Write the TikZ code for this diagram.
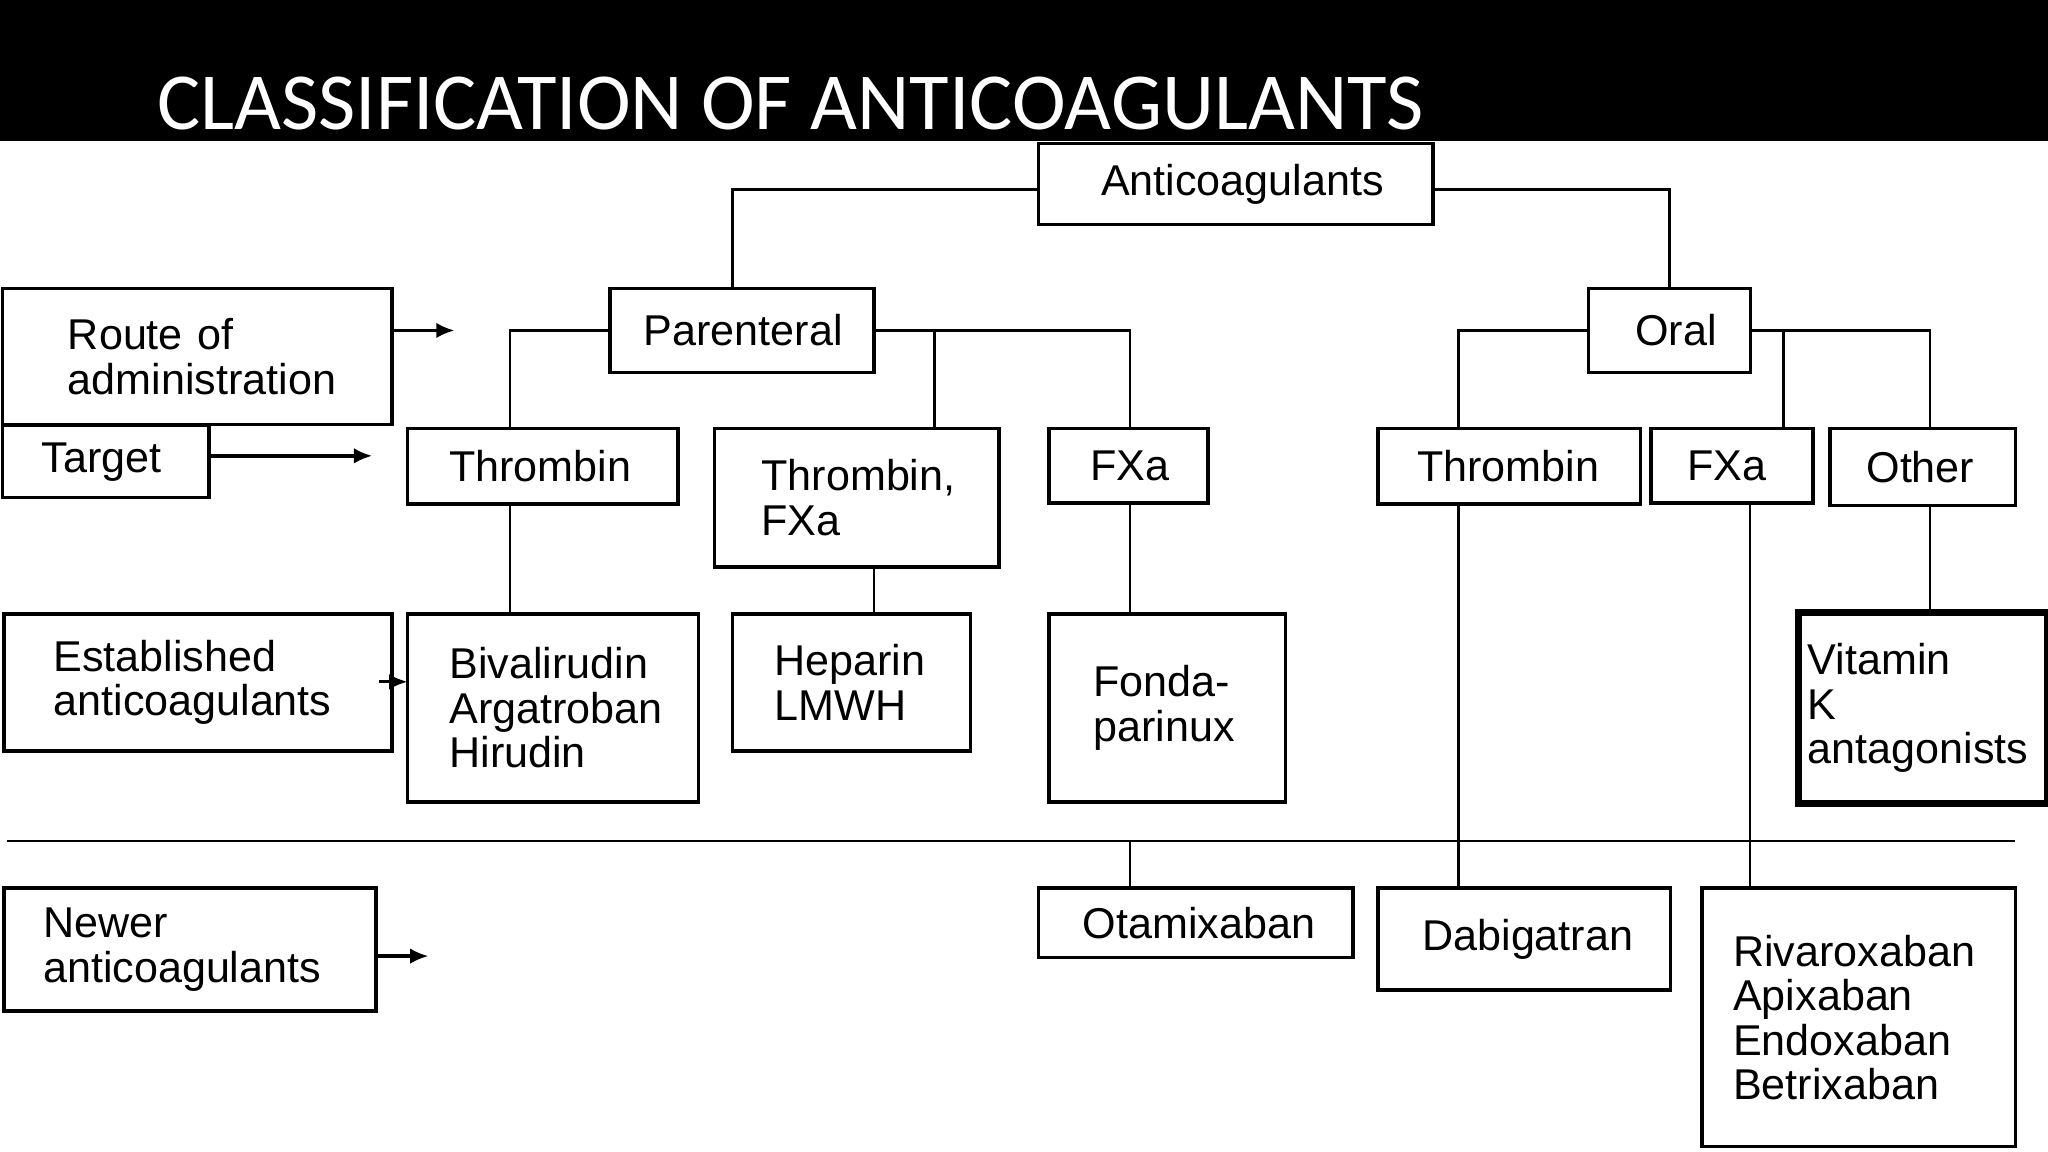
\documentclass[tikz,border=0pt]{standalone}
\usepackage{fontspec}
\setmainfont{Liberation Sans}
\newfontfamily\titlefont{Carlito}
\usetikzlibrary{calc,arrows.meta}
\tikzset{
  box/.style={draw, line width=1.3pt, inner xsep=0pt, inner ysep=0pt, align=left,
    font=\fontsize{16.5}{17}\selectfont},
  con/.style={line width=1pt},
  arr/.style={line width=1.3pt, -{Latex[length=7pt,width=6pt]}}
}
\newcommand\bx[7][15]{%
  \node[box, minimum width={(#5-#3)*0.5pt}, minimum height={(#6-#4)*0.5pt},
    text width={(#5-#3)*0.5pt-2*#1pt}] (#2) at ({(#3+#5)/2},{(#4+#6)/2}) {#7};}
\newcommand\tp[3]{\coordinate (#1) at ($(#2 west)!#3!(#2 east)$);}
\begin{document}
\begin{tikzpicture}[x=0.5pt,y=-0.5pt]
\useasboundingbox (0,0) rectangle (1568,882);
\fill[white] (0,0) rectangle (1568,882);
\fill[black] (0,0) rectangle (1568,108);
\node[anchor=base west, text=white, inner sep=0pt, font=\titlefont\fontsize{31}{31}\selectfont] (title) at (120,99) {CLASSIFICATION OF ANTICOAGULANTS};
% boxes
\bx[24]{ant}{795}{110}{1097}{172}{Anticoagulants}
\bx[13]{par}{467}{221}{669}{285}{Parenteral}
\bx[18]{oral}{1216}{221}{1340}{285}{Oral}
\bx[16]{thr1}{312}{328}{519}{386}{Thrombin}
\bx[18]{thf}{547}{328}{765}{434}{Thrombin,\\FXa}
\bx[16]{fxa1}{803}{328}{925}{385}{FXa}
\bx[15]{thr2}{1055}{328}{1256}{386}{Thrombin}
\bx[14]{fxa2}{1264}{328}{1388}{385}{FXa}
\bx[14]{oth}{1401}{328}{1543}{387}{Other}
\bx[16]{biv}{312}{470}{535}{614}{Bivalirudin\\Argatroban\\Hirudin}
\bx[16]{hep}{561}{470}{743}{575}{Heparin\\LMWH}
\bx[17]{fon}{803}{470}{984}{614}{Fonda-\\parinux}
\bx[3]{vit}{1378}{470}{1566}{614}{Vitamin\\K\\antagonists}
\bx[17]{ota}{795}{680}{1036}{733}{Otamixaban}
\bx[17]{dab}{1055}{680}{1279}{758}{Dabigatran}
\bx[12]{riv}{1303}{680}{1543}{878}{Rivaroxaban\\Apixaban\\Endoxaban\\Betrixaban}
\bx[25]{route}{2}{221}{300}{325}{Route of\\administration}
\bx[15]{targ}{2}{326}{160}{381}{Target}
\bx[19]{est}{3}{470}{300}{575}{Established\\anticoagulants}
\bx[15]{new}{3}{680}{288}{774}{Newer\\anticoagulants}
% thicker vitamin box
\draw[line width=2.2pt] (vit.north west) rectangle (vit.south east);
% top points
\tp{t1}{thr1.north}{0.38}
\tp{t2}{thf.north}{0.77}
\tp{t3}{fxa1.north}{0.51}
\tp{t4}{thr2.north}{0.31}
\tp{t5}{fxa2.north}{0.81}
\tp{t6}{oth.north}{0.54}
\tp{b1}{thr1.south}{0.38}
\tp{b2}{thf.south}{0.56}
\tp{b3}{fxa1.south}{0.51}
\tp{b4}{thr2.south}{0.31}
\tp{b5}{fxa2.south}{0.61}
\tp{b6}{oth.south}{0.54}
\tp{ap}{par.north}{0.465}
\tp{ao}{oral.north}{0.5}
% connectors
\draw[con] ($(ant.west)+(0,4)$) -| (ap);
\draw[con] ($(ant.east)+(0,4)$) -| (ao);
\draw[con] (par.west) -| (t1);
\draw[con] (par.east) -| (t3);
\draw[con] (t2) -- (t2 |- par.east);
\draw[con] (oral.west) -| (t4);
\draw[con] (oral.east) -| (t6);
\draw[con] (t5) -- (t5 |- oral.east);
\draw[con] (b1) -- (b1 |- biv.north);
\draw[con] (b2) -- (b2 |- hep.north);
\draw[con] (b3) -- (b3 |- fon.north);
\draw[con] (b4) -- (b4 |- dab.north);
\draw[con] (b5) -- (b5 |- riv.north);
\draw[con] (b6) -- (b6 |- vit.north);
\coordinate (sepL) at (5,644);
\coordinate (sepR) at (1543,644);
\draw[con] (sepL) -- (sepR);
\draw[con] (b3 |- sepL) -- (b3 |- ota.north);
% arrows
\coordinate (ra) at (348,253);
\coordinate (ta) at (285,349);
\coordinate (ea) at (312,522);
\coordinate (na) at (328,732);
\draw[arr] (route.east |- ra) -- (ra);
\draw[arr] (targ.east |- ta) -- (ta);
\draw[arr] ($(est.east |- ea)+(-11,0)$) -- (ea);
\draw[arr] (new.east |- na) -- (na);
\end{tikzpicture}
\end{document}
